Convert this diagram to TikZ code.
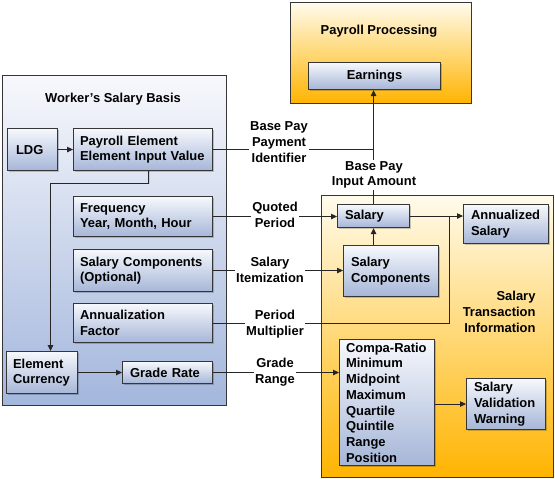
\documentclass[tikz,border=0pt]{standalone}
\usepackage{fontspec}
\setmainfont{Liberation Sans}
\usetikzlibrary{arrows.meta,shadows,calc}
\definecolor{itop}{HTML}{F6F8FC}
\definecolor{ibot}{HTML}{A6B6D8}
\definecolor{wtop}{HTML}{F7F8FC}
\definecolor{wbot}{HTML}{A3B6DC}
\definecolor{otop}{HTML}{FFFBEC}
\definecolor{obot}{HTML}{FFB400}
\definecolor{bordc}{HTML}{363636}
\begin{document}
\begin{tikzpicture}[x=1bp,y=-1bp,
  font=\fontsize{13}{15.8}\selectfont\bfseries,
  cont/.style={draw=bordc, line width=1.1pt, anchor=north west, inner sep=0pt},
  ibox/.style={draw=bordc, line width=1.1pt, top color=itop, bottom color=ibot,
     anchor=north west, inner sep=0pt, align=left,
     drop shadow={shadow xshift=1.3pt, shadow yshift=-1.3pt, fill=black, opacity=0.2}},
  lbl/.style={fill=white, inner sep=1.5pt, align=center},
  ln/.style={line width=1pt, draw=black!85},
  arr/.style={ln, -{Triangle[length=6pt,width=5.5pt]}}
]
\useasboundingbox (0,0) rectangle (555,479);

% containers
\node[cont, top color=otop, bottom color=obot, minimum width=181bp, minimum height=101bp] (pp) at (290,2) {};
\node (ppt) at (379,31) {Payroll Processing};
\node[cont, top color=wtop, bottom color=wbot, minimum width=224bp, minimum height=330bp] (wsb) at (2,75) {};
\node (wsbt) at (113,99) {Worker’s Salary Basis};
\node[cont, top color=otop, bottom color=obot, minimum width=232bp, minimum height=282bp] (sti) at (321,195) {};
\node[align=right, anchor=east] (stit) at (539,312) {Salary\\Transaction\\Information};

% inner boxes
\node[ibox, align=center, minimum width=132bp, minimum height=27bp] (earn) at (308,62) {Earnings};
\node[ibox, minimum width=50bp, minimum height=42bp, text width=33bp] (ldg) at (7,128) {LDG};
\node[ibox, minimum width=139bp, minimum height=42bp, text width=126bp] (pe) at (73,128) {Payroll Element\\Element Input Value};
\node[ibox, minimum width=139bp, minimum height=40bp, text width=126bp] (freq) at (73,196) {Frequency\\Year, Month, Hour};
\node[ibox, minimum width=139bp, minimum height=42bp, text width=126bp] (scopt) at (73,249) {Salary Components\\(Optional)};
\node[ibox, minimum width=139bp, minimum height=39bp, text width=126bp] (af) at (73,303) {Annualization\\Factor};
\node[ibox, minimum width=71bp, minimum height=42bp, text width=58bp] (ec) at (6,351) {Element\\Currency};
\node[ibox, minimum width=90bp, minimum height=22bp, text width=75bp] (gr) at (122,361) {Grade Rate};
\node[ibox, minimum width=72bp, minimum height=23bp, text width=57bp] (sal) at (337,204) {Salary};
\node[ibox, minimum width=85bp, minimum height=39bp, text width=70bp] (ann) at (463,204) {Annualized\\Salary};
\node[ibox, minimum width=95bp, minimum height=51bp, text width=80bp] (scomp) at (343,245) {Salary\\Components};
\node[ibox, minimum width=95bp, minimum height=126bp, text width=82bp] (cr) at (339,339) {Compa-Ratio\\Minimum\\Midpoint\\Maximum\\Quartile\\Quintile\\Range\\Position};
\node[ibox, minimum width=79bp, minimum height=51bp, text width=64bp] (svw) at (466,378) {Salary\\Validation\\Warning};

% connectors
\draw[arr] (ldg.east) -- (pe.west);
\draw[arr] (sal.north) -- (sal.north |- earn.south);
\draw[ln] (pe.east) -- (pe.east -| sal.north);
\draw[arr] ([xshift=75.5bp]pe.south west) |- (50.5,183.5) -- ([xshift=44.5bp]ec.north west);
\draw[arr] (freq.east) -- (freq.east -| sal.west);
\draw[arr] (sal.east) -- (sal.east -| ann.west);
\draw[ln] (af.east) -| ([xshift=39bp]sal.east);
\draw[arr] (scopt.east) -- (scopt.east -| scomp.west);
\draw[arr] (sal.south |- scomp.north) -- (sal.south);
\draw[arr] (ec.east) -- (ec.east -| gr.west);
\draw[arr] (gr.east) -- (gr.east -| cr.west);
\draw[arr] (cr.east |- svw.west) -- (svw.west);

% labels
\node[lbl] (bpi) at (279,142) {Base Pay\\Payment\\Identifier};
\node[lbl] (bpa) at (374,175) {Base Pay\\Input Amount};
\node[lbl] (qp) at (275,215) {Quoted\\Period};
\node[lbl] (si) at (270,270) {Salary\\Itemization};
\node[lbl] (pm) at (275,324) {Period\\Multiplier};
\node[lbl] (gra) at (275,372) {Grade\\Range};
\end{tikzpicture}
\end{document}
